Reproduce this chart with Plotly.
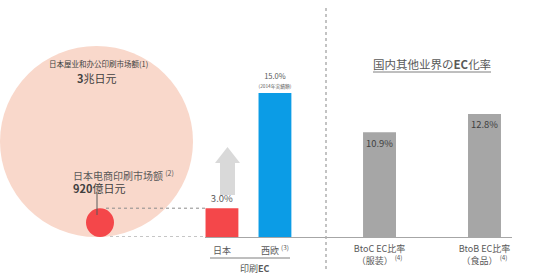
import plotly.graph_objects as go

# ---- data ----
print_cats = ["日本", "西欧 <sup>(3)</sup>"]
print_vals = [3.0, 15.0]
print_text = ["3.0%", "15.0%<br><span style='font-size:6px'>(2014年実績額)</span>"]
print_colors = ["#f4474a", "#0b9ce6"]

other_cats = ["BtoC EC比率<br>（服装） <sup>(4)</sup>", "BtoB EC比率<br>（食品） <sup>(4)</sup>"]
other_vals = [10.9, 12.8]
other_text = ["10.9%", "12.8%"]

W, H = 554, 275
FONT = "Noto Sans CJK JP, Noto Sans CJK SC, sans-serif"
TXT = "#595959"

def px(x):
    return x / W

def py(y):
    return 1 - y / H

fig = go.Figure()
fig.add_trace(go.Bar(
    x=print_cats, y=print_vals, xaxis="x", yaxis="y",
    marker=dict(color=print_colors, line=dict(width=0)),
    width=0.62, text=print_text, textposition="outside", textangle=0,
    textfont=dict(size=9.5, color=TXT, family=FONT), cliponaxis=False,
))
fig.add_trace(go.Bar(
    x=other_cats, y=other_vals, xaxis="x2", yaxis="y",
    marker=dict(color="#a6a6a6", line=dict(width=0)),
    width=0.314, text=other_text, textposition="inside", insidetextanchor="end",
    textangle=0,
    textfont=dict(size=10, color="#404040", family=FONT), cliponaxis=False,
))

ymax = 237 / 9.6
fig.update_layout(
    width=W, height=H, margin=dict(l=0, r=0, t=0, b=0),
    paper_bgcolor="white", plot_bgcolor="rgba(0,0,0,0)",
    showlegend=False, font=dict(family=FONT, color=TXT),
    uniformtext=dict(mode=False),
    xaxis=dict(domain=[205 / W, 320 / W], range=[-0.32, 1.85], anchor="y",
               showline=True, linecolor="#a6a6a6", linewidth=1, showgrid=False,
               ticks="", ticklabelstandoff=5,
               tickfont=dict(size=9, color=TXT, family=FONT), fixedrange=True),
    xaxis2=dict(domain=[320 / W, 512 / W], range=[-0.567, 1.262], anchor="y",
                showline=True, linecolor="#a6a6a6", linewidth=1, showgrid=False,
                ticks="", ticklabelstandoff=3,
                tickfont=dict(size=9, color=TXT, family=FONT), fixedrange=True),
    yaxis=dict(domain=[1 - 237 / H, 1], range=[0, ymax], visible=False, fixedrange=True),
)

shapes = []
# big market circle
shapes.append(dict(type="circle", xref="paper", yref="paper",
                   x0=px(0), x1=px(193), y0=py(237), y1=py(46),
                   fillcolor="#f9d8cb", line=dict(width=0), layer="below"))
# small EC circle (diameter = Japan EC height)
shapes.append(dict(type="circle", xref="paper", yref="y",
                   x0=px(86), x1=px(114), y0=0, y1=print_vals[0],
                   fillcolor="#f4474a", line=dict(width=0), layer="below"))
# dotted guide lines
for yv, x0 in [(print_vals[0], 106), (0, 110)]:
    shapes.append(dict(type="line", xref="paper", yref="y", x0=px(x0), x1=px(205),
                       y0=yv, y1=yv, line=dict(color="#8c8c8c", width=1, dash="dot")))
# pointer line
shapes.append(dict(type="line", xref="paper", yref="paper", x0=px(97), x1=px(97),
                   y0=py(193), y1=py(215), line=dict(color="#595959", width=1)))
# vertical separator
shapes.append(dict(type="line", xref="paper", yref="paper", x0=px(326), x1=px(326),
                   y0=py(8), y1=py(269), line=dict(color="#b0b0b0", width=1.5, dash="dot")))
# group underline
shapes.append(dict(type="line", xref="paper", yref="paper", x0=px(210), x1=px(290),
                   y0=py(258), y1=py(258), line=dict(color="#7f7f7f", width=1)))
# title underline
shapes.append(dict(type="line", xref="paper", yref="paper", x0=px(373), x1=px(491),
                   y0=py(72), y1=py(72), line=dict(color="#7f7f7f", width=1)))
# up arrow
ax = [220, 220, 215, 227.5, 240, 235, 235]
ay = [195, 163, 163, 147, 163, 163, 195]
path = "M " + " L ".join(f"{px(a)},{py(b)}" for a, b in zip(ax, ay)) + " Z"
shapes.append(dict(type="path", xref="paper", yref="paper", path=path,
                   fillcolor="#d9d9d9", line=dict(width=0)))
fig.update_layout(shapes=shapes)

ann = [
    dict(text="日本屋业和办公印刷市场额(1)", x=px(98), y=py(63), size=7.5, xanchor="center", color="#404040"),
    dict(text="<b>3</b>兆日元", x=px(97), y=py(78), size=11, xanchor="center", color="#404040"),
    dict(text="日本电商印刷市场额 <sup>(2)</sup>", x=px(71), y=py(175), size=10, xanchor="left", color=TXT),
    dict(text="<b>920</b>億日元", x=px(71), y=py(188), size=11, xanchor="left", color="#404040"),
    dict(text="印刷<b>EC</b>", x=px(255), y=py(268), size=9, xanchor="center", color=TXT),
    dict(text="国内其他业界の<b>EC</b>化率", x=px(432), y=py(64), size=11.5, xanchor="center", color=TXT),
]
for a in ann:
    fig.add_annotation(text=a["text"], x=a["x"], y=a["y"], xref="paper", yref="paper",
                       xanchor=a["xanchor"], yanchor="middle", showarrow=False,
                       font=dict(size=a["size"], color=a["color"], family=FONT))

fig.write_html("out.html")
